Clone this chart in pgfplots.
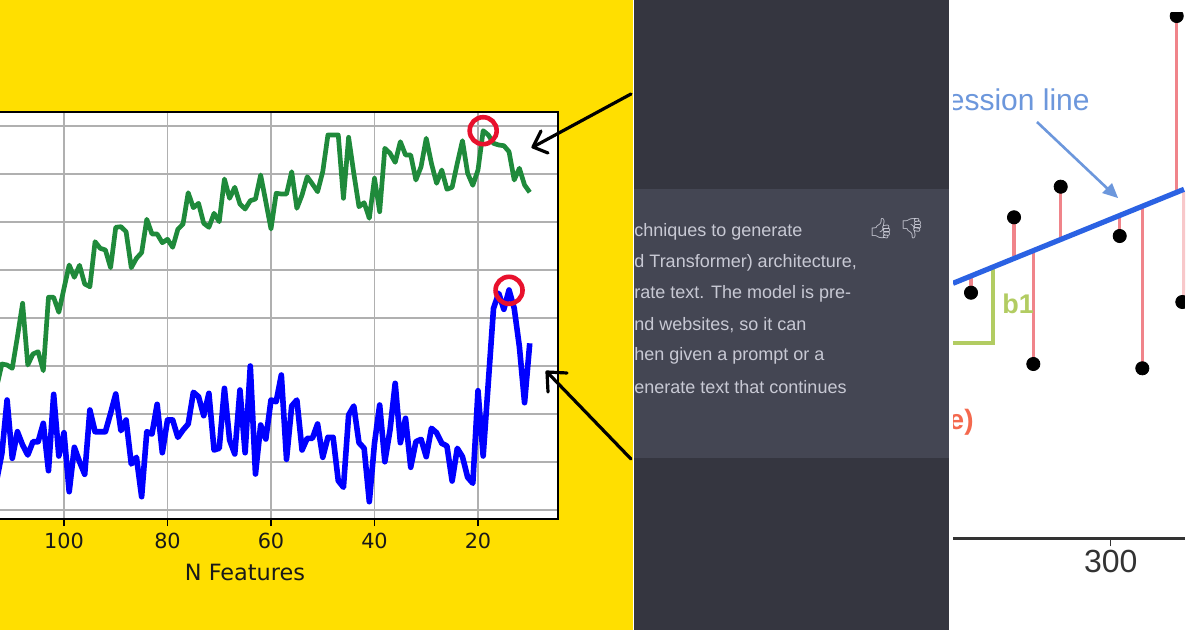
\documentclass[border=0pt]{standalone}
\usepackage{pgfplots}
\usepackage{pgfplotstable}
\usepackage{fontspec}
\pgfplotsset{compat=1.18}
\newfontfamily\dejavu{DejaVu Sans}
\newfontfamily\lib{Liberation Sans}
\newfontfamily\emoji{Noto Emoji}
\definecolor{chartyellow}{HTML}{FFDF00}
\definecolor{darkpanel}{HTML}{353640}
\definecolor{midpanel}{HTML}{444653}
\definecolor{chatgrey}{HTML}{C8C9D4}
\definecolor{mplgreen}{HTML}{1F8A3B}
\definecolor{mplgrid}{HTML}{B0B0B0}
\definecolor{ringred}{HTML}{E8112D}
\definecolor{reglinecol}{HTML}{2B62E3}
\definecolor{regtext}{HTML}{6C97DC}
\definecolor{resid}{HTML}{F0848A}
\definecolor{bone}{HTML}{B2CC62}
\definecolor{errtext}{HTML}{F4694E}
\pgfplotstableread{
N y
113 386.7
112 364
111 365
110 368.3
109 336.7
108 303.3
107 365
106 354
105 351.7
104 370.7
103 297.3
102 297.3
101 312.3
100 288.3
99 265
98 277.3
97 265.3
96 284
95 286.7
94 241.7
93 248.3
92 250
91 267.7
90 227.3
89 226.7
88 231.7
87 267.7
86 258.3
85 252.7
84 219.3
83 234
82 234
81 242.7
80 239.3
79 247.3
78 229.3
77 224
76 192.7
75 207.7
74 203.3
73 223.3
72 227.3
71 213.3
70 221.7
69 179
68 198.3
67 187.3
66 204
65 209
64 200.7
63 199
62 175
61 201.7
60 229
59 193.3
58 194
57 194
56 171.7
55 208.3
54 195
53 176.7
52 184
51 191.7
50 171.7
49 135
48 135
47 135
46 198.3
45 137.3
44 173.3
43 206.7
42 202.7
41 218.3
40 178.3
39 211.7
38 148.3
37 153.3
36 162.3
35 141.7
34 155
33 155
32 180
31 166.7
30 138.3
29 163.3
28 183.3
27 170
26 189.3
25 187.3
24 163.3
23 140.7
22 173.3
21 185.3
20 170
19 130.7
18 135
17 143.3
16 145
15 145.7
14 151.7
13 180
12 168.3
11 185
10 192.3
}\greentable
\pgfplotstableread{
N y
113 480
112 453.3
111 400
110 458.3
109 431.7
108 445
107 455
106 441.7
105 441.7
104 423.3
103 470.7
102 394.3
101 456
100 432.7
99 491.7
98 447.3
97 461.7
96 474.3
95 410
94 431.7
93 431.7
92 431.7
91 413.3
90 394
89 430.7
88 420
87 464
86 457.3
85 496.7
84 431.7
83 434
82 404.3
81 452.7
80 420
79 420
78 437.3
77 430
76 424
75 392.3
74 396.7
73 415.7
72 393.3
71 450
70 448.3
69 388.3
68 440
67 454
66 390
65 452.7
64 366
63 474
62 425
61 439
60 400
59 401.7
58 375
57 459.3
56 406
55 400
54 450
53 438.3
52 438.3
51 424
50 457.3
49 437.3
48 437.3
47 480.7
46 487.3
45 415
44 406
43 442.7
42 448.3
41 501.7
40 443.3
39 405
38 461.7
37 430
36 383.3
35 442.7
34 418.3
33 467.3
32 441.7
31 439.3
30 456.7
29 428.3
28 432.7
27 443.3
26 446
25 481
24 448.3
23 456.7
22 477.3
21 483.3
20 390.7
19 456
18 382
17 308.3
16 293.3
15 309.3
14 290
13 308.3
12 346.7
11 402.7
10 343.3
}\bluetable
\begin{document}
\begin{tikzpicture}[x=0.5pt,y=-0.5pt]
\useasboundingbox (0,0) rectangle (1200,630);
\clip (0,0) rectangle (1200,630);
% panels
\fill[white] (0,0) rectangle (1200,630);
\fill[chartyellow] (0,0) rectangle (632.7,630);
\fill[darkpanel] (634,0) rectangle (949,630);
\fill[midpanel] (634,189) rectangle (949,458);
% left chart
\begin{axis}[
  at={(-1.5pt,-259.5pt)},anchor=south west,scale only axis,
  width=280.5pt,height=203.5pt,
  x dir=reverse,y dir=reverse,
  xmin=4.54,xmax=112.95,ymin=112,ymax=519,
  xtick={100,80,60,40,20},
  ytick={126,174,222,270,318,366,414,462,510},
  yticklabels={},
  ytick style={draw=none},
  grid=major,
  grid style={mplgrid,line width=0.8pt},
  axis line style={black,line width=0.75pt},
  axis background/.style={fill=white},
  xtick style={black,line width=0.6pt},
  tickwidth=3.5pt,
  tick align=outside,
  xtick pos=lower,
  xticklabel pos=lower,
  /pgf/number format/assume math mode=true,
  tick label style={font=\dejavu\fontsize{10.4}{12}\selectfont,text=black!90},
]
\addplot[mplgreen,line width=2.35pt,line join=round] table[x=N,y=y]{\greentable};
\addplot[blue,line width=2.8pt,line join=round] table[x=N,y=y]{\bluetable};
\addplot[only marks,mark=o,mark size=6.75pt,mark options={ringred,line width=2.3pt}] coordinates {(19,130.7)};
\addplot[only marks,mark=o,mark size=6.75pt,mark options={ringred,line width=2.3pt}] coordinates {(14,290.3)};
\end{axis}
\node[font=\dejavu\fontsize{11.2}{13}\selectfont,text=black!90] at (245,572) {N Features};
% black pointers
\draw[black,line width=1.6pt,line cap=round] (631,94) -- (533,147);
\draw[black,line width=1.6pt,line cap=round,line join=round] (541,131) -- (533,147) -- (548,153);
\draw[black,line width=1.6pt,line cap=round] (631,459) -- (547,372);
\draw[black,line width=1.6pt,line cap=round,line join=round] (567,373) -- (547,372) -- (548,392);
% middle panel text
\begin{scope}[every node/.style={anchor=west,inner sep=0pt,font=\lib\fontsize{9}{11}\selectfont,text=chatgrey}]
\node at (634,232) {chniques to generate};
\node at (634,263) {d Transformer) architecture,};
\node at (634,294) {rate text. The model is pre-};
\node at (634,325) {nd websites, so it can};
\node at (634,356) {hen given a prompt or a};
\node at (634,387) {enerate text that continues};
\end{scope}
\node[font=\emoji\fontsize{10}{12}\selectfont,text=chatgrey] at (881,229) {👍};
\node[font=\emoji\fontsize{10}{12}\selectfont,text=chatgrey] at (912,229) {👎};
% right panel
\begin{axis}[
  at={(476.5pt,-269.15pt)},anchor=south west,scale only axis,
  width=116pt,height=263.15pt,
  y dir=reverse,
  xmin=953,xmax=1185,ymin=12,ymax=538.3,
  hide y axis,
  axis x line=bottom,
  x axis line style={-,draw=black!80,line width=1.5pt},
  xtick={1110.7},xticklabels={300},
  xtick style={black!80,line width=0.7pt},
  tickwidth=4pt,tick align=outside,
  xticklabel style={font=\lib\fontsize{16}{18}\selectfont,text=black!80,yshift=1.5pt},
]
\addplot[resid,line width=1.6pt] coordinates {(971,276) (971,292.7)};
\addplot[resid,line width=1.6pt] coordinates {(1014,256) (1014,217.3)};
\addplot[resid,line width=1.6pt] coordinates {(1060.7,238) (1060.7,186.7)};
\addplot[resid,line width=1.6pt] coordinates {(1033.3,250) (1033.3,364)};
\addplot[resid,line width=1.6pt] coordinates {(1119.7,215) (1119.7,236)};
\addplot[resid,line width=1.6pt] coordinates {(1142.3,206.7) (1142.3,368.3)};
\addplot[resid,line width=1.6pt] coordinates {(1176.7,190) (1176.7,16)};
\addplot[resid!45,line width=1.6pt] coordinates {(1184,192) (1184,302)};
\addplot[bone,line width=1.8pt] coordinates {(992.7,268) (992.7,343) (953,343)};
\addplot[reglinecol,line width=2.6pt] coordinates {(953,283.3) (1184,189.3)};
\addplot[only marks,mark=*,mark size=3.3pt,mark options={black,fill=black}] coordinates {
 (971,292.7) (1014,217.3) (1060.7,186.7) (1119.7,236) (1176.7,16)
 (1033.3,364) (1142.3,368.3) (1182.3,302)};
\end{axis}
\fill[white] (1165,0) rectangle (1190,12);
\fill[white] (1185,290) rectangle (1200,315);
\node[font=\lib\bfseries\fontsize{13.5}{15}\selectfont,text=bone] at (1018,304) {b1};
\draw[resid,line width=0.8pt] (1033.3,290) -- (1033.3,330);
\begin{scope}
\clip (953,0) rectangle (1200,630);
\node[anchor=east,inner sep=0pt,font=\lib\fontsize{15}{17}\selectfont,text=regtext] at (1090,100) {ression line};
\node[anchor=east,inner sep=0pt,font=\lib\bfseries\fontsize{14}{16}\selectfont,text=errtext] at (974,422) {e)};
\end{scope}
\draw[regtext,line width=1.3pt] (1037,122) -- (1110,191);
\fill[regtext] (1102,193) -- (1112,183) -- (1118,198) -- cycle;
\end{tikzpicture}
\end{document}
